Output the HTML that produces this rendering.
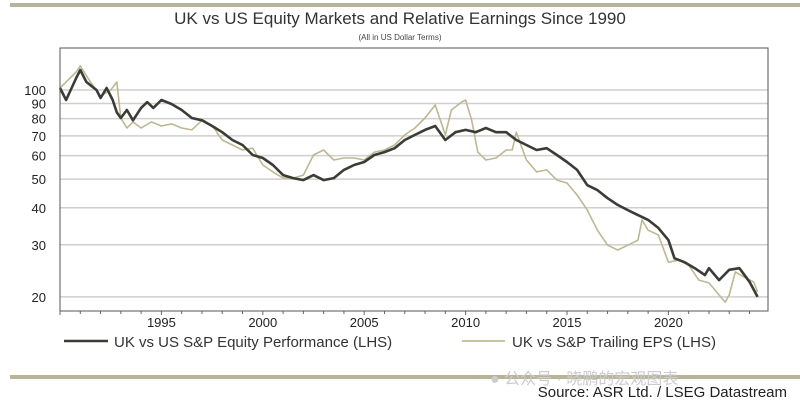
<!DOCTYPE html>
<html><head><meta charset="utf-8"><style>
body{margin:0;background:#fff;width:800px;height:412px;overflow:hidden;font-family:"Liberation Sans","Noto Sans CJK SC",sans-serif}
svg{display:block}
</style></head><body>
<svg id="chart" width="800" height="412" xmlns="http://www.w3.org/2000/svg">
<rect x="10" y="3" width="790" height="4" fill="#b7b49a"/>
<text x="400" y="24" text-anchor="middle" font-size="17" fill="#333">UK vs US Equity Markets and Relative Earnings Since 1990</text>
<text x="400" y="40" text-anchor="middle" font-size="8" fill="#444">(All in US Dollar Terms)</text>
<g id="grid"></g>
<g id="yticks"></g>
<g id="xticks"></g>
<g id="series"></g>
<rect x="60" y="48" width="708" height="263" fill="none" stroke="#555" stroke-width="1"/>
<g>
<line x1="64" y1="341" x2="108" y2="341" stroke="#3a3d36" stroke-width="2.5"/>
<text x="114" y="347" font-size="15" fill="#333">UK vs US S&amp;P Equity Performance (LHS)</text>
<line x1="462" y1="341" x2="505" y2="341" stroke="#c9c5a2" stroke-width="2"/>
<text x="512" y="347" font-size="15" fill="#333">UK vs S&amp;P Trailing EPS (LHS)</text>
</g>
<rect x="10" y="375" width="790" height="4" fill="#b7b49a"/>
<text x="490" y="384" font-size="16" fill="#ccc">● 公众号 · 晓鹏的宏观图表</text>
<text x="787" y="397" text-anchor="end" font-size="15" fill="#222">Source: ASR Ltd. / LSEG Datastream</text>
</svg>
<script>
const yTickValues=[20,30,40,50,60,70,80,90,100];
const xTickLabels=[1995,2000,2005,2010,2015,2020];
const eqYears=[1990.0,1990.3,1990.8,1991.0,1991.3,1991.8,1992.0,1992.3,1992.6,1992.8,1993.0,1993.3,1993.6,1994.0,1994.3,1994.6,1995.0,1995.5,1996.0,1996.5,1997.0,1997.5,1998.0,1998.5,1999.0,1999.5,2000.0,2000.5,2001.0,2001.5,2002.0,2002.5,2003.0,2003.5,2004.0,2004.5,2005.0,2005.5,2006.0,2006.5,2007.0,2007.5,2008.0,2008.5,2009.0,2009.5,2010.0,2010.5,2011.0,2011.5,2012.0,2012.5,2013.0,2013.5,2014.0,2014.5,2015.0,2015.5,2016.0,2016.5,2017.0,2017.5,2018.0,2018.5,2019.0,2019.5,2020.0,2020.3,2020.8,2021.3,2021.8,2022.0,2022.5,2023.0,2023.5,2024.0,2024.4];
const eqValues=[101.6,92.5,109.8,116.8,106.4,100,94,101.6,92.5,84,80.4,85.6,79,87,91,87,92.5,89.7,85.6,80.4,79,75.6,72,67.8,65.2,60.3,58.9,55.8,51.6,50.4,49.6,51.6,49.6,50.4,53.7,55.8,57.1,60.3,61.7,63.6,67.8,70.5,73.3,75.6,67.8,72,73.3,72,74.4,72,72,67.8,65.2,62.7,63.6,60.3,57.1,53.7,47.7,45.9,43.1,40.9,39.3,37.8,36.4,34.2,31.1,27,26.2,25,23.7,25,22.8,24.7,25,22.5,20];
const epsYears=[1990.0,1990.8,1991.0,1991.5,1992.0,1992.5,1992.8,1993.0,1993.3,1993.6,1994.0,1994.5,1995.0,1995.5,1996.0,1996.5,1997.0,1997.5,1998.0,1998.5,1999.0,1999.5,2000.0,2000.5,2001.0,2001.5,2002.0,2002.5,2003.0,2003.5,2004.0,2004.5,2005.0,2005.5,2006.0,2006.5,2007.0,2007.5,2008.0,2008.5,2009.0,2009.3,2009.8,2010.0,2010.3,2010.6,2011.0,2011.5,2012.0,2012.3,2012.5,2013.0,2013.5,2014.0,2014.5,2015.0,2015.5,2016.0,2016.5,2017.0,2017.5,2018.0,2018.5,2018.7,2019.0,2019.5,2020.0,2020.5,2021.0,2021.5,2022.0,2022.5,2022.8,2023.0,2023.3,2023.8,2024.2,2024.4];
const epsValues=[101.6,115,120.5,106.4,95.4,100,106.4,80.4,74.4,78,74.4,78,75.6,76.8,74.4,73.3,79,76,67.8,65.2,62.7,63.6,55.8,52.9,50.4,50.4,51.6,60.3,62.7,58,58.9,58.9,58,61.7,62.7,65.2,70.5,74.4,80.4,89,70.5,85.6,91,92.5,79,61.7,58,58.9,62.7,62.7,72,58,52.9,53.7,49.6,48.5,44.2,39.3,33.6,29.9,28.8,29.9,31.1,36.4,33.6,32.4,26.2,26.6,25.6,22.8,22.3,20.3,19.2,20.3,24.3,23.2,22.5,20.8];

const NS='http://www.w3.org/2000/svg';
const X0=60,X1=768,x0Year=1990,pxPerYear=20.28;
const xScale=y=>X0+(y-x0Year)*pxPerYear;
const yScale=v=>90-Math.log10(v/100)*296;
function mk(tag,attrs,parent){const e=document.createElementNS(NS,tag);for(const k in attrs)e.setAttribute(k,attrs[k]);parent.appendChild(e);return e;}
const grid=document.getElementById('grid'),yt=document.getElementById('yticks'),xt=document.getElementById('xticks'),ser=document.getElementById('series');
yTickValues.forEach(v=>{
  const y=yScale(v);
  const l=mk('line',{x1:X0,x2:X1,y1:y,y2:y,stroke:'#cfcfcf','stroke-width':1.5},grid);
  
  
  const t=mk('text',{x:46,y:y+5,'text-anchor':'end','font-size':13,fill:'#222'},yt);
  t.textContent=v;
  
  
});
for(let yr=1990;yr<=2024;yr++){
  const x=xScale(yr);
  const m=mk('line',{x1:x,x2:x,y1:311,y2:yr%5===0?315:314,stroke:'#666','stroke-width':1},xt);
  
  
}
xTickLabels.forEach(yr=>{
  const t=mk('text',{x:xScale(yr),y:327,'text-anchor':'middle','font-size':13,fill:'#222'},xt);
  t.textContent=yr;
  
  
});
function path(years,vals){return years.map((yr,i)=>(i?'L':'M')+xScale(yr).toFixed(1)+','+yScale(vals[i]).toFixed(1)).join('');}
const p2=mk('path',{d:path(epsYears,epsValues),fill:'none',stroke:'#bdb892','stroke-width':1.6,'stroke-linejoin':'round'},ser);


const p1=mk('path',{d:path(eqYears,eqValues),fill:'none',stroke:'#3a3d36','stroke-width':2.6,'stroke-linejoin':'round'},ser);


</script>
</body></html>
